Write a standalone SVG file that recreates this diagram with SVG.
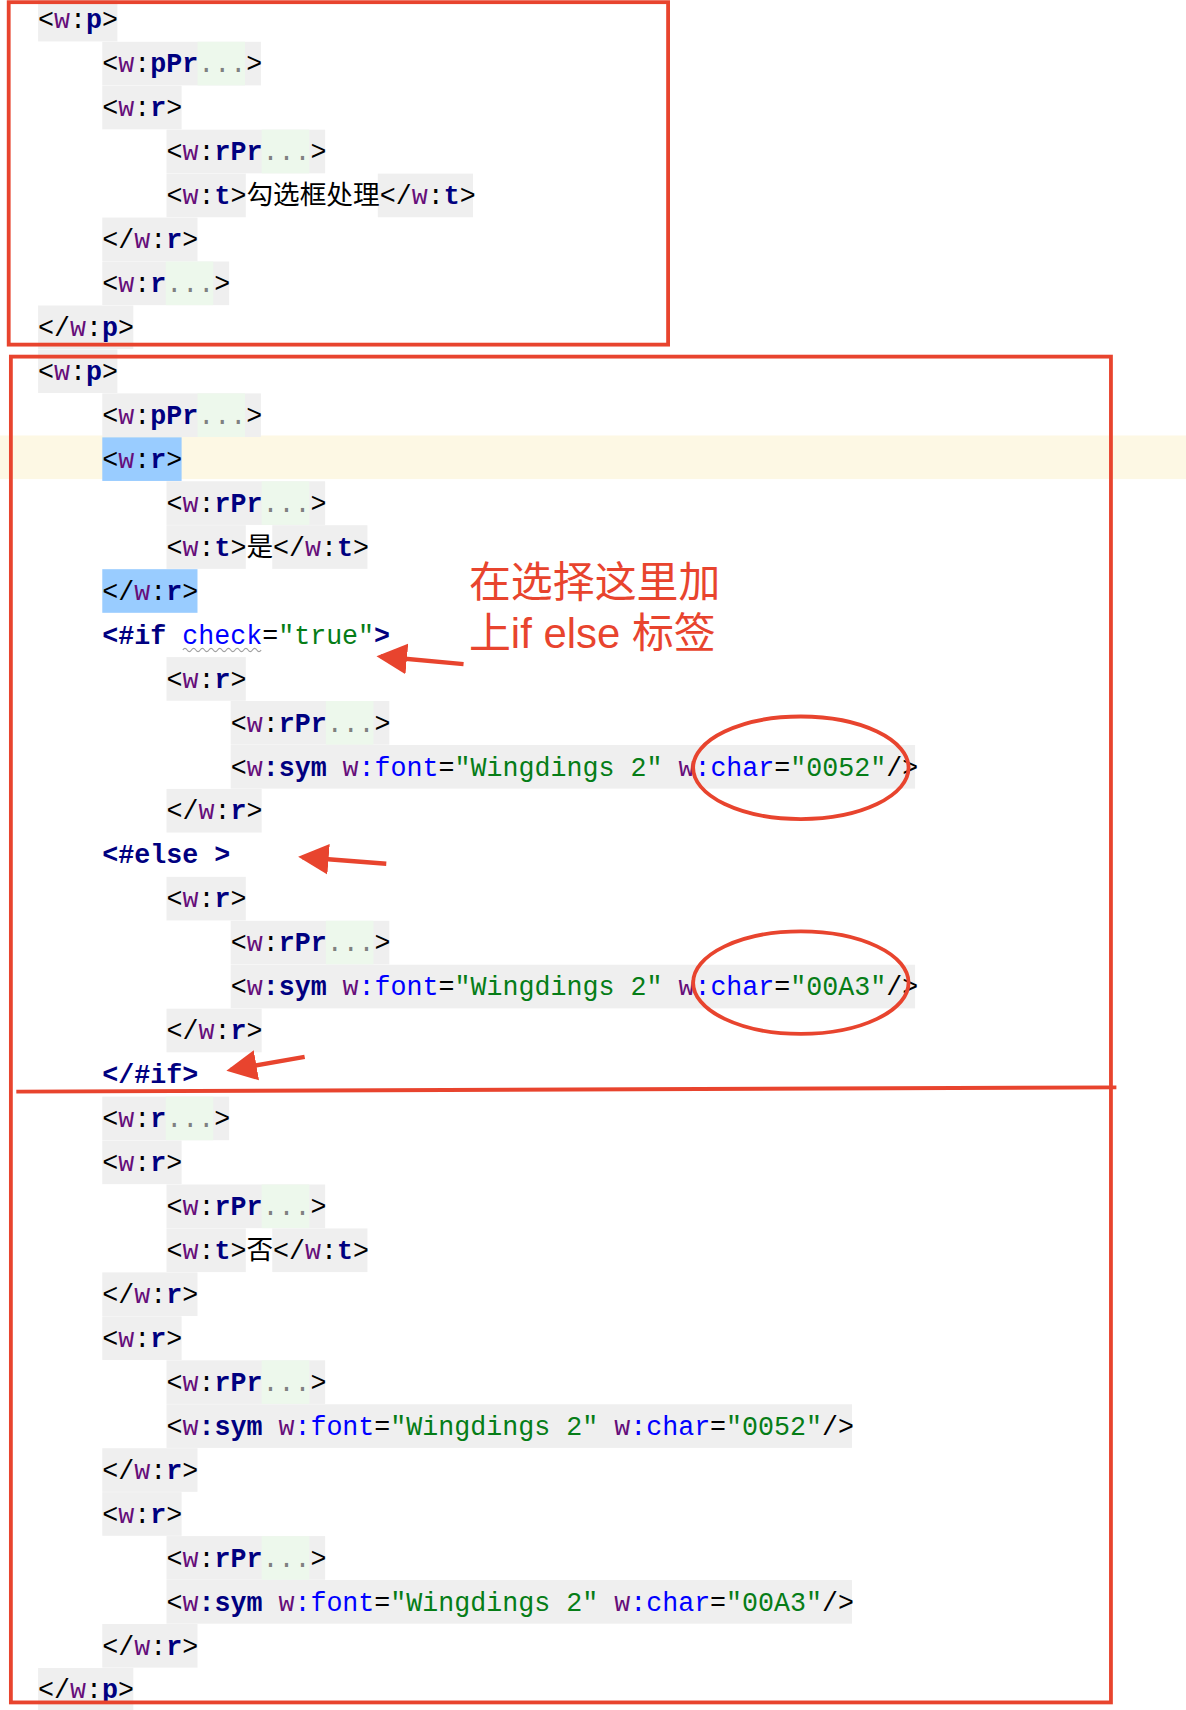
<svg xmlns="http://www.w3.org/2000/svg" width="1186" height="1710" viewBox="0 0 1186 1710">
<style>
text{font-family:"Liberation Mono","Noto Sans CJK SC",monospace;font-size:24.5px;fill:#000}
.ns{fill:#660e7a}.n{fill:#000080;font-weight:bold}.d{fill:#808080}.a{fill:#0000ff}.v{fill:#067d17}.k{fill:#000080;font-weight:bold}
.g{fill:#efefef}.gr{fill:#edf8ec}.bl{fill:#99ccff}
.red{fill:none;stroke:#e8442e;stroke-width:3.5}
.ann{font-family:"Liberation Sans","Noto Sans CJK SC",sans-serif;font-size:38.5px;fill:#e8442e}
</style>
<defs><marker id="ah" markerWidth="8" markerHeight="8" refX="6" refY="4" orient="auto" markerUnits="strokeWidth"><path d="M0,0.5 L7,4 L0,7.5 z" fill="#e8442e"/></marker></defs>
<rect width="1186" height="1710" fill="#fff"/>
<g transform="scale(1.0881,1.0906)">
<rect x="0" y="399.3" width="1090" height="40" fill="#fdf8e4"/>
<g id="bgs">
<rect class="g" x="35" y="-2" width="72.9" height="40"/>
<rect class="g" x="94" y="38.3" width="145.8" height="40"/><rect class="gr" x="181.5" y="38.3" width="43.7" height="40"/>
<rect class="g" x="94" y="78.6" width="72.9" height="40"/>
<rect class="g" x="153" y="118.9" width="145.8" height="40"/><rect class="gr" x="240.5" y="118.9" width="43.7" height="40"/>
<rect class="g" x="153" y="159.2" width="72.9" height="40"/><rect class="g" x="347.2" y="159.2" width="87.5" height="40"/>
<rect class="g" x="94" y="199.5" width="87.5" height="40"/>
<rect class="g" x="94" y="239.8" width="116.6" height="40"/><rect class="gr" x="152.3" y="239.8" width="43.7" height="40"/>
<rect class="g" x="35" y="280.1" width="87.5" height="40"/>
<rect class="g" x="35" y="320.4" width="72.9" height="40"/>
<rect class="g" x="94" y="360.7" width="145.8" height="40"/><rect class="gr" x="181.5" y="360.7" width="43.7" height="40"/>
<rect class="bl" x="94" y="401" width="72.9" height="40"/>
<rect class="g" x="153" y="441.3" width="145.8" height="40"/><rect class="gr" x="240.5" y="441.3" width="43.7" height="40"/>
<rect class="g" x="153" y="481.6" width="72.9" height="40"/><rect class="g" x="250.2" y="481.6" width="87.5" height="40"/>
<rect class="bl" x="94" y="521.9" width="87.5" height="40"/>
<rect class="g" x="153" y="602.5" width="72.9" height="40"/>
<rect class="g" x="212" y="642.8" width="145.8" height="40"/><rect class="gr" x="299.5" y="642.8" width="43.7" height="40"/>
<rect class="g" x="212" y="683.1" width="629" height="40"/>
<rect class="g" x="153" y="723.4" width="87.5" height="40"/>
<rect class="g" x="153" y="804" width="72.9" height="40"/>
<rect class="g" x="212" y="844.3" width="145.8" height="40"/><rect class="gr" x="299.5" y="844.3" width="43.7" height="40"/>
<rect class="g" x="212" y="884.6" width="629" height="40"/>
<rect class="g" x="153" y="924.9" width="87.5" height="40"/>
<rect class="g" x="94" y="1005.5" width="116.6" height="40"/><rect class="gr" x="152.3" y="1005.5" width="43.7" height="40"/>
<rect class="g" x="94" y="1045.8" width="72.9" height="40"/>
<rect class="g" x="153" y="1086.1" width="145.8" height="40"/><rect class="gr" x="240.5" y="1086.1" width="43.7" height="40"/>
<rect class="g" x="153" y="1126.4" width="72.9" height="40"/><rect class="g" x="250.2" y="1126.4" width="87.5" height="40"/>
<rect class="g" x="94" y="1166.7" width="87.5" height="40"/>
<rect class="g" x="94" y="1207" width="72.9" height="40"/>
<rect class="g" x="153" y="1247.3" width="145.8" height="40"/><rect class="gr" x="240.5" y="1247.3" width="43.7" height="40"/>
<rect class="g" x="153" y="1287.6" width="630" height="40"/>
<rect class="g" x="94" y="1327.9" width="87.5" height="40"/>
<rect class="g" x="94" y="1368.2" width="72.9" height="40"/>
<rect class="g" x="153" y="1408.5" width="145.8" height="40"/><rect class="gr" x="240.5" y="1408.5" width="43.7" height="40"/>
<rect class="g" x="153" y="1448.8" width="630" height="40"/>
<rect class="g" x="94" y="1489.1" width="87.5" height="40"/>
<rect class="g" x="35" y="1529.4" width="87.5" height="40"/>
</g>
<g id="code" xml:space="preserve">
<text x="35" y="26">&lt;<tspan class="ns">w</tspan>:<tspan class="n">p</tspan>&gt;</text>
<text x="94" y="66.3">&lt;<tspan class="ns">w</tspan>:<tspan class="n">pPr</tspan><tspan class="d">...</tspan>&gt;</text>
<text x="94" y="106.6">&lt;<tspan class="ns">w</tspan>:<tspan class="n">r</tspan>&gt;</text>
<text x="153" y="146.9">&lt;<tspan class="ns">w</tspan>:<tspan class="n">rPr</tspan><tspan class="d">...</tspan>&gt;</text>
<text x="153" y="187.2">&lt;<tspan class="ns">w</tspan>:<tspan class="n">t</tspan>&gt;勾选框处理&lt;/<tspan class="ns">w</tspan>:<tspan class="n">t</tspan>&gt;</text>
<text x="94" y="227.5">&lt;/<tspan class="ns">w</tspan>:<tspan class="n">r</tspan>&gt;</text>
<text x="94" y="267.8">&lt;<tspan class="ns">w</tspan>:<tspan class="n">r</tspan><tspan class="d">...</tspan>&gt;</text>
<text x="35" y="308.1">&lt;/<tspan class="ns">w</tspan>:<tspan class="n">p</tspan>&gt;</text>
<text x="35" y="348.4">&lt;<tspan class="ns">w</tspan>:<tspan class="n">p</tspan>&gt;</text>
<text x="94" y="388.7">&lt;<tspan class="ns">w</tspan>:<tspan class="n">pPr</tspan><tspan class="d">...</tspan>&gt;</text>
<text x="94" y="429">&lt;<tspan class="ns">w</tspan>:<tspan class="n">r</tspan>&gt;</text>
<text x="153" y="469.3">&lt;<tspan class="ns">w</tspan>:<tspan class="n">rPr</tspan><tspan class="d">...</tspan>&gt;</text>
<text x="153" y="509.6">&lt;<tspan class="ns">w</tspan>:<tspan class="n">t</tspan>&gt;是&lt;/<tspan class="ns">w</tspan>:<tspan class="n">t</tspan>&gt;</text>
<text x="94" y="549.9">&lt;/<tspan class="ns">w</tspan>:<tspan class="n">r</tspan>&gt;</text>
<text x="94" y="590.2"><tspan class="k">&lt;#if</tspan> <tspan class="a">check</tspan>=<tspan class="v">"true"</tspan><tspan class="k">&gt;</tspan></text>
<text x="153" y="630.5">&lt;<tspan class="ns">w</tspan>:<tspan class="n">r</tspan>&gt;</text>
<text x="212" y="670.8">&lt;<tspan class="ns">w</tspan>:<tspan class="n">rPr</tspan><tspan class="d">...</tspan>&gt;</text>
<text x="212" y="711.1">&lt;<tspan class="ns">w</tspan><tspan class="n">:sym</tspan> <tspan class="ns">w</tspan><tspan class="a">:font</tspan>=<tspan class="v">"Wingdings 2"</tspan> <tspan class="ns">w</tspan><tspan class="a">:char</tspan>=<tspan class="v">"0052"</tspan>/&gt;</text>
<text x="153" y="751.4">&lt;/<tspan class="ns">w</tspan>:<tspan class="n">r</tspan>&gt;</text>
<text x="94" y="791.7"><tspan class="k">&lt;#else &gt;</tspan></text>
<text x="153" y="832">&lt;<tspan class="ns">w</tspan>:<tspan class="n">r</tspan>&gt;</text>
<text x="212" y="872.3">&lt;<tspan class="ns">w</tspan>:<tspan class="n">rPr</tspan><tspan class="d">...</tspan>&gt;</text>
<text x="212" y="912.6">&lt;<tspan class="ns">w</tspan><tspan class="n">:sym</tspan> <tspan class="ns">w</tspan><tspan class="a">:font</tspan>=<tspan class="v">"Wingdings 2"</tspan> <tspan class="ns">w</tspan><tspan class="a">:char</tspan>=<tspan class="v">"00A3"</tspan>/&gt;</text>
<text x="153" y="952.9">&lt;/<tspan class="ns">w</tspan>:<tspan class="n">r</tspan>&gt;</text>
<text x="94" y="993.2"><tspan class="k">&lt;/#if&gt;</tspan></text>
<text x="94" y="1033.5">&lt;<tspan class="ns">w</tspan>:<tspan class="n">r</tspan><tspan class="d">...</tspan>&gt;</text>
<text x="94" y="1073.8">&lt;<tspan class="ns">w</tspan>:<tspan class="n">r</tspan>&gt;</text>
<text x="153" y="1114.1">&lt;<tspan class="ns">w</tspan>:<tspan class="n">rPr</tspan><tspan class="d">...</tspan>&gt;</text>
<text x="153" y="1154.4">&lt;<tspan class="ns">w</tspan>:<tspan class="n">t</tspan>&gt;否&lt;/<tspan class="ns">w</tspan>:<tspan class="n">t</tspan>&gt;</text>
<text x="94" y="1194.7">&lt;/<tspan class="ns">w</tspan>:<tspan class="n">r</tspan>&gt;</text>
<text x="94" y="1235">&lt;<tspan class="ns">w</tspan>:<tspan class="n">r</tspan>&gt;</text>
<text x="153" y="1275.3">&lt;<tspan class="ns">w</tspan>:<tspan class="n">rPr</tspan><tspan class="d">...</tspan>&gt;</text>
<text x="153" y="1315.6">&lt;<tspan class="ns">w</tspan><tspan class="n">:sym</tspan> <tspan class="ns">w</tspan><tspan class="a">:font</tspan>=<tspan class="v">"Wingdings 2"</tspan> <tspan class="ns">w</tspan><tspan class="a">:char</tspan>=<tspan class="v">"0052"</tspan>/&gt;</text>
<text x="94" y="1355.9">&lt;/<tspan class="ns">w</tspan>:<tspan class="n">r</tspan>&gt;</text>
<text x="94" y="1396.2">&lt;<tspan class="ns">w</tspan>:<tspan class="n">r</tspan>&gt;</text>
<text x="153" y="1436.5">&lt;<tspan class="ns">w</tspan>:<tspan class="n">rPr</tspan><tspan class="d">...</tspan>&gt;</text>
<text x="153" y="1476.8">&lt;<tspan class="ns">w</tspan><tspan class="n">:sym</tspan> <tspan class="ns">w</tspan><tspan class="a">:font</tspan>=<tspan class="v">"Wingdings 2"</tspan> <tspan class="ns">w</tspan><tspan class="a">:char</tspan>=<tspan class="v">"00A3"</tspan>/&gt;</text>
<text x="94" y="1517.1">&lt;/<tspan class="ns">w</tspan>:<tspan class="n">r</tspan>&gt;</text>
<text x="35" y="1557.4">&lt;/<tspan class="ns">w</tspan>:<tspan class="n">p</tspan>&gt;</text>
</g>
<path d="M168,596 q2,-3 4,0 t4,0 t4,0 t4,0 t4,0 t4,0 t4,0 t4,0 t4,0 t4,0 t4,0 t4,0 t4,0 t4,0 t4,0 t4,0 t4,0 t4,0" fill="none" stroke="#a0a0a0" stroke-width="1"/>
<g id="annotations">
<rect class="red" x="8" y="2" width="606" height="314"/>
<rect class="red" x="10" y="327" width="1011" height="1234"/>
<path class="red" d="M15,1001 L1026,997"/>
<ellipse class="red" cx="736" cy="704" rx="99" ry="47"/>
<ellipse class="red" cx="736" cy="901" rx="99" ry="47"/>
<text class="ann" x="431" y="547">在选择这里加</text>
<text class="ann" x="431" y="594">上if else 标签</text>
</g>
<g id="connectors" stroke="#e8442e" stroke-width="4" fill="none">
<path d="M426,609 L350,602" marker-end="url(#ah)"/>
<path d="M355,792 L278,786" marker-end="url(#ah)"/>
<path d="M280,969 L212,981" marker-end="url(#ah)"/>
</g>
</g>
</svg>
